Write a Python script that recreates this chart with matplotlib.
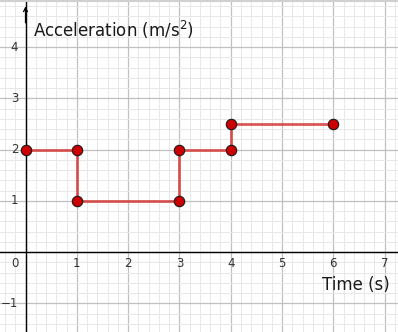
"""Acceleration vs time step chart, GeoGebra-style grid."""

import matplotlib
matplotlib.use("Agg")
import matplotlib.pyplot as plt
from matplotlib.ticker import MultipleLocator
from matplotlib.lines import Line2D

# data
time_s = [0, 1, 1, 3, 3, 4, 4, 6]
accel = [2, 2, 1, 1, 2, 2, 2.5, 2.5]
x_ticks = [1, 2, 3, 4, 5, 6, 7]
y_ticks = [-1, 1, 2, 3, 4]

XMIN, XMAX = -0.497, 7.26
YMIN, YMAX = -1.56, 4.92

fig = plt.figure(figsize=(3.98, 3.32), dpi=100)
ax = fig.add_axes([0, 0, 1, 1])
ax.set_xlim(XMIN, XMAX)
ax.set_ylim(YMIN, YMAX)

# grid
ax.xaxis.set_major_locator(MultipleLocator(1))
ax.yaxis.set_major_locator(MultipleLocator(1))
ax.xaxis.set_minor_locator(MultipleLocator(0.2))
ax.yaxis.set_minor_locator(MultipleLocator(0.2))
ax.grid(which="minor", color="#e8e8e8", lw=0.7)
ax.grid(which="major", color="#c0c0c0", lw=0.9)
ax.set_axisbelow(True)
ax.tick_params(which="both", length=0, labelbottom=False, labelleft=False)
for s in ax.spines.values():
    s.set_visible(False)

# axes
ax.axhline(0, color="black", lw=1.0, zorder=2)
ax.axvline(0, color="black", lw=1.0, zorder=2)
ax.annotate("", xy=(0, YMAX - 0.07), xytext=(0, YMAX - 0.5),
            arrowprops=dict(arrowstyle="->", color="black", lw=0.9,
                            mutation_scale=7), zorder=3)

# tick labels
lab_col = "#333333"
for x in x_ticks:
    ax.text(x, -0.22, str(x), ha="center", va="center", fontsize=8.5, color=lab_col)
ax.text(-0.2, -0.22, "0", ha="center", va="center", fontsize=8.5, color=lab_col)
for y in y_ticks:
    lab = "\u2212" + str(abs(y)) if y < 0 else str(y)
    ax.text(-0.14, y, lab, ha="right", va="center", fontsize=8.5, color=lab_col)

# step function
ax.plot(time_s, accel, color="#d32f2f", lw=2.0, alpha=0.8, zorder=4,
        solid_capstyle="butt")
ax.plot(time_s, accel, ls="none", marker="o", ms=7.5, mfc="#cc0000",
        mec="#1a1a1a", mew=0.8, zorder=5)

# axis titles
ax.text(0.15, 4.34, r"Acceleration (m/s$^2$)", ha="left", va="center",
        fontsize=12, color="#1a1a1a")
ax.text(7.09, -0.65, "Time (s)", ha="right", va="center",
        fontsize=12, color="#1a1a1a")

# top frame line
fig.add_artist(Line2D([0, 1], [0.997, 0.997], transform=fig.transFigure,
                      color="#d0d0d0", lw=1.5))

fig.savefig("out.png", dpi=100)
